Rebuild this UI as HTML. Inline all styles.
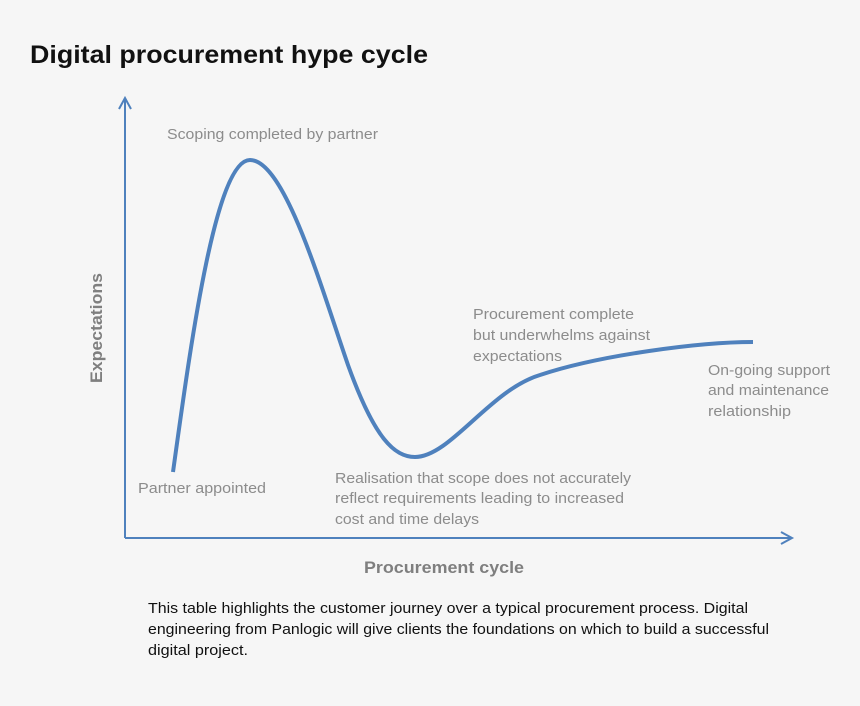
<!DOCTYPE html>
<html><head><meta charset="utf-8"><style>
html,body{margin:0;padding:0;background:#f6f6f6;}
svg{display:block;}
text{font-family:"Liberation Sans",sans-serif;}
</style></head><body>
<svg width="860" height="706" viewBox="0 0 860 706" xmlns="http://www.w3.org/2000/svg">
<rect width="860" height="706" fill="#f6f6f6"/>
<text x="30" y="63" font-size="25" font-weight="bold" fill="#111" textLength="398" lengthAdjust="spacingAndGlyphs">Digital procurement hype cycle</text>
<g stroke="#4f81bd" stroke-width="2" fill="none">
<line x1="125" y1="538" x2="125" y2="98"/>
<polyline points="119,109 125,98 131,109"/>
<line x1="125" y1="538" x2="792" y2="538"/>
<polyline points="781,532 792,538 781,544"/>
</g>
<path d="M173,472 C190,350 215,160 250,160 C285,160 322,290 348,365 C375,440 395,457 415,457 C450,457 490,390 540,375 C600,355 700,342 753,342" stroke="#4f81bd" stroke-width="4" fill="none"/>
<g fill="#8c8c8c" font-size="14.5">
<text x="167" y="139" textLength="211" lengthAdjust="spacingAndGlyphs">Scoping completed by partner</text>
<text x="473" y="319" textLength="161" lengthAdjust="spacingAndGlyphs">Procurement complete</text>
<text x="473" y="340" textLength="177" lengthAdjust="spacingAndGlyphs">but underwhelms against</text>
<text x="473" y="361" textLength="89" lengthAdjust="spacingAndGlyphs">expectations</text>
<text x="708" y="375" textLength="122" lengthAdjust="spacingAndGlyphs">On-going support</text>
<text x="708" y="395" textLength="121" lengthAdjust="spacingAndGlyphs">and maintenance</text>
<text x="708" y="416" textLength="83" lengthAdjust="spacingAndGlyphs">relationship</text>
<text x="138" y="493" textLength="128" lengthAdjust="spacingAndGlyphs">Partner appointed</text>
<text x="335" y="483" textLength="296" lengthAdjust="spacingAndGlyphs">Realisation that scope does not accurately</text>
<text x="335" y="503" textLength="289" lengthAdjust="spacingAndGlyphs">reflect requirements leading to increased</text>
<text x="335" y="524" textLength="144" lengthAdjust="spacingAndGlyphs">cost and time delays</text>
</g>
<g fill="#7f7f7f" font-size="17" font-weight="bold">
<text x="364" y="573" textLength="160" lengthAdjust="spacingAndGlyphs">Procurement cycle</text>
<text transform="translate(102,383) rotate(-90)" x="0" y="0" textLength="110" lengthAdjust="spacingAndGlyphs">Expectations</text>
</g>
<g fill="#111" font-size="14.5">
<text x="148" y="613" textLength="600" lengthAdjust="spacingAndGlyphs">This table highlights the customer journey over a typical procurement process. Digital</text>
<text x="148" y="634" textLength="621" lengthAdjust="spacingAndGlyphs">engineering from Panlogic will give clients the foundations on which to build a successful</text>
<text x="148" y="655" textLength="100" lengthAdjust="spacingAndGlyphs">digital project.</text>
</g>
</svg>
</body></html>
